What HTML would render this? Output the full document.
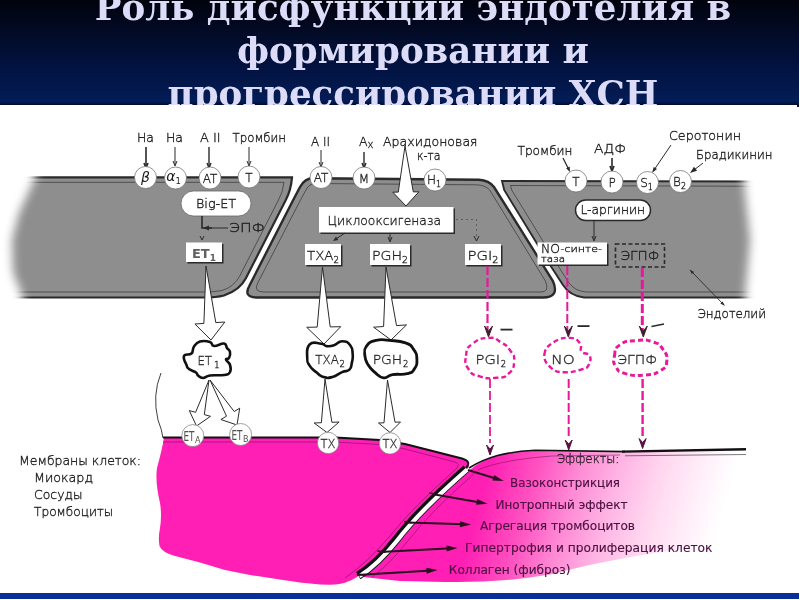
<!DOCTYPE html>
<html lang="ru">
<head>
<meta charset="utf-8">
<title>Роль дисфункции эндотелия в формировании и прогрессировании ХСН</title>
<style>
html,body{margin:0;padding:0;}
body{width:800px;height:600px;overflow:hidden;position:relative;background:#fff;}
#bg{position:absolute;left:0;top:0;width:799px;height:107px;background:linear-gradient(to bottom,#01030d 0px,#020a24 30px,#021240 65px,#03194f 92px,#041d58 101px,#01103a 104px,#000a2a 105px);}
#title{position:absolute;left:0;top:-14px;width:826px;margin:0;text-align:center;font-family:"DejaVu Serif","Liberation Serif",serif;font-weight:bold;font-size:35.6px;line-height:43px;color:#dcdcf8;letter-spacing:0;will-change:transform;}
#pic{position:absolute;left:0;top:105px;width:797px;height:495px;background:#fff;}
#bar{position:absolute;left:0;top:593px;width:799px;height:6px;background:#0a2f9a;}
#dia{position:absolute;left:0;top:0;width:800px;height:600px;will-change:transform;}
</style>
</head>
<body>
<div id="bg"></div>
<h1 id="title">Роль дисфункции эндотелия в<br>формировании и<br>прогрессировании ХСН</h1>
<div id="pic"></div>
<svg id="dia" width="800" height="600" viewBox="0 0 800 600">
<defs>
<filter id="bl" x="-50%" y="-50%" width="200%" height="200%"><feGaussianBlur stdDeviation="5"/></filter>
<linearGradient id="pk" gradientUnits="userSpaceOnUse" x1="497" y1="440" x2="725" y2="504">
<stop offset="0" stop-color="#ff1fb4"/><stop offset="0.19" stop-color="#ff50c0"/><stop offset="0.36" stop-color="#ff88d4"/><stop offset="0.53" stop-color="#ffb4e4"/><stop offset="0.71" stop-color="#ffd8f0"/><stop offset="0.88" stop-color="#fff0fa"/><stop offset="1" stop-color="#ffffff"/>
</linearGradient>
</defs>
<g font-family="DejaVu Sans, Liberation Sans, sans-serif" font-weight="200" stroke="#1c1c1c" stroke-width="0">
<style>text{stroke:#222;stroke-width:0.35px}</style>
<path d="M-5,177.3 L292,177.3 Q291,190 285.8,200 L246,278 Q240,290 224,295.5 Q216,297.5 205,297.5 L-5,297.5Z" fill="#8e8e8e" stroke="#2a2a2a" stroke-width="2.2" stroke-linejoin="miter"/>
<path d="M313,178.3 L479,179.8 Q489,180.5 494,187 L552.9,281 Q560,297.5 543,297.5 L256,297.5 Q243,297 249.5,285.5 L293.2,200 L300,187 Q305,178.3 313,178.3Z" fill="#8e8e8e" stroke="#2a2a2a" stroke-width="2.4" stroke-linejoin="miter"/>
<path d="M502,181 L770,181.5 L770,297.5 L584,297.5 Q570,296 563,285 L551,266.5 L504.2,190Z" fill="#8e8e8e" stroke="#2a2a2a" stroke-width="1.9" stroke-linejoin="miter"/>
<path d="M-5,182.3 L284,182.3 Q283,192 278.5,200 L240,275.5 Q234,287 222,290.5 Q214,292 205,292 L-5,292" fill="none" stroke="#2a2a2a" stroke-width="0.8" opacity="0.8"/>
<path d="M316,183.5 L476,184.8 Q485,185 489.7,190 L545.4,281 Q550,292 541,292 L264,292 Q253,292 257.7,283 L300.5,200 L306,190 Q309,183.5 316,183.5Z" fill="none" stroke="#2a2a2a" stroke-width="0.8" opacity="0.8"/>
<path d="M510.5,185.5 L770,186.3 M770,292 L586,292 Q575,291 569,283 L558.2,266 L511.7,190 L510.5,185.5" fill="none" stroke="#2a2a2a" stroke-width="0.8" opacity="0.8"/>
<path d="M-20,160 L40,160 L36,176 L19,213 L12,240 L13,272 L23,298 L25,312 L-20,312Z" fill="#fff" filter="url(#bl)"/>
<path d="M820,160 L742,160 L744,183 L750,240 L745,297 L744,312 L820,312Z" fill="#fff" filter="url(#bl)"/>
<text x="137" y="142" font-size="12.5" fill="#1c1c1c" font-weight="200" textLength="17" lengthAdjust="spacingAndGlyphs" >На</text>
<text x="166" y="142" font-size="12.5" fill="#1c1c1c" font-weight="200" textLength="17" lengthAdjust="spacingAndGlyphs" >На</text>
<text x="200" y="142" font-size="12.5" fill="#1c1c1c" font-weight="200" textLength="20.5" lengthAdjust="spacingAndGlyphs" >A II</text>
<text x="232.5" y="142" font-size="12.5" fill="#1c1c1c" font-weight="200" textLength="53.5" lengthAdjust="spacingAndGlyphs" >Тромбин</text>
<text x="311" y="145.5" font-size="12.5" fill="#1c1c1c" font-weight="200" textLength="19" lengthAdjust="spacingAndGlyphs" >A II</text>
<text x="359" y="145.5" font-size="12.5" fill="#1c1c1c">А<tspan font-size="10" dy="2.5">х</tspan></text>
<text x="383" y="145.5" font-size="12.5" fill="#1c1c1c" font-weight="200" textLength="94.5" lengthAdjust="spacingAndGlyphs" >Арахидоновая</text>
<text x="417" y="160" font-size="12.5" fill="#1c1c1c" font-weight="200" textLength="23.5" lengthAdjust="spacingAndGlyphs" >к-та</text>
<text x="517.5" y="154.5" font-size="12.5" fill="#1c1c1c" font-weight="200" textLength="55.0" lengthAdjust="spacingAndGlyphs" >Тромбин</text>
<text x="594" y="153" font-size="12.5" fill="#1c1c1c" font-weight="200" textLength="32" lengthAdjust="spacingAndGlyphs" >АДФ</text>
<text x="669" y="139.5" font-size="12.5" fill="#1c1c1c" font-weight="200" textLength="72" lengthAdjust="spacingAndGlyphs" >Серотонин</text>
<text x="696" y="159" font-size="12.5" fill="#1c1c1c" font-weight="200" textLength="76.5" lengthAdjust="spacingAndGlyphs" >Брадикинин</text>
<line x1="146" y1="147" x2="146" y2="166" stroke="#2a2a2a" stroke-width="1.6"/>
<path d="M144.0,163 L146,168 L148.0,163" fill="none" stroke="#2a2a2a" stroke-width="1.6"/>
<line x1="175" y1="147" x2="175" y2="164" stroke="#2a2a2a" stroke-width="1"/>
<path d="M173.0,161 L175,166 L177.0,161" fill="none" stroke="#2a2a2a" stroke-width="1"/>
<line x1="209" y1="147" x2="209" y2="166" stroke="#2a2a2a" stroke-width="1.4"/>
<path d="M207.0,163 L209,168 L211.0,163" fill="none" stroke="#2a2a2a" stroke-width="1.4"/>
<line x1="249" y1="147" x2="249" y2="164" stroke="#2a2a2a" stroke-width="1"/>
<path d="M247.0,161 L249,166 L251.0,161" fill="none" stroke="#2a2a2a" stroke-width="1"/>
<line x1="321" y1="150" x2="321" y2="165" stroke="#2a2a2a" stroke-width="1"/>
<path d="M319.0,162 L321,167 L323.0,162" fill="none" stroke="#2a2a2a" stroke-width="1"/>
<line x1="364" y1="152" x2="364" y2="166" stroke="#2a2a2a" stroke-width="1.4"/>
<path d="M362.0,163 L364,168 L366.0,163" fill="none" stroke="#2a2a2a" stroke-width="1.4"/>
<line x1="563" y1="158" x2="569" y2="170" stroke="#2a2a2a" stroke-width="1.2"/>
<path d="M570.0,172.0 L566.1,168.3 L569.7,166.6Z" fill="#2a2a2a"/>
<line x1="612" y1="158" x2="612" y2="169" stroke="#2a2a2a" stroke-width="1.6"/>
<path d="M610.0,166 L612,171 L614.0,166" fill="none" stroke="#2a2a2a" stroke-width="1.6"/>
<line x1="671" y1="145" x2="654" y2="170" stroke="#2a2a2a" stroke-width="1"/>
<path d="M652.0,173.0 L653.7,166.9 L657.0,169.1Z" fill="#2a2a2a"/>
<line x1="703" y1="163" x2="694" y2="170" stroke="#2a2a2a" stroke-width="1"/>
<path d="M690.0,173.0 L694.0,166.7 L697.1,170.7Z" fill="#2a2a2a"/>
<path d="M405.0,146.0 L398.3,192.1 L392.8,192.2 L406.0,206.0 L418.8,191.8 L413.3,191.9Z" fill="#fff" stroke="#2a2a2a" stroke-width="1" stroke-linejoin="miter"/>
<circle cx="145.5" cy="177.5" r="11" fill="#fff" stroke="#666" stroke-width="0.7"/>
<text x="145.5" y="181.5" font-size="14" fill="#1c1c1c" text-anchor="middle" font-style="italic" font-weight="400" style="stroke-width:0">β</text>
<circle cx="175.5" cy="178" r="11" fill="#fff" stroke="#666" stroke-width="0.7"/>
<text x="173.5" y="181" font-size="14" fill="#1c1c1c" text-anchor="middle" font-style="italic" font-weight="400" style="stroke-width:0">α<tspan font-size="8.5" dy="3" font-style="normal">1</tspan></text>
<circle cx="210" cy="178" r="11" fill="#fff" stroke="#666" stroke-width="0.7"/>
<text x="210" y="182.5" font-size="12" fill="#3c3c3c" text-anchor="middle">AT</text>
<circle cx="249" cy="177" r="11" fill="#fff" stroke="#666" stroke-width="0.7"/>
<text x="249" y="181.5" font-size="12" fill="#3c3c3c" text-anchor="middle">T</text>
<circle cx="321" cy="177.5" r="11" fill="#fff" stroke="#666" stroke-width="0.7"/>
<text x="321" y="182.0" font-size="12" fill="#3c3c3c" text-anchor="middle">AT</text>
<circle cx="364" cy="178" r="11" fill="#fff" stroke="#666" stroke-width="0.7"/>
<text x="364" y="182.5" font-size="12" fill="#3c3c3c" text-anchor="middle">M</text>
<circle cx="435" cy="180" r="11" fill="#fff" stroke="#666" stroke-width="0.7"/>
<text x="434" y="184" font-size="12" fill="#3c3c3c" text-anchor="middle">H<tspan font-size="8" dy="3">1</tspan></text>
<circle cx="576" cy="181" r="11" fill="#fff" stroke="#666" stroke-width="0.7"/>
<text x="576" y="185.5" font-size="12" fill="#3c3c3c" text-anchor="middle">T</text>
<circle cx="612" cy="182" r="11" fill="#fff" stroke="#666" stroke-width="0.7"/>
<text x="612" y="186.5" font-size="12" fill="#3c3c3c" text-anchor="middle">P</text>
<circle cx="647.5" cy="182.5" r="11" fill="#fff" stroke="#666" stroke-width="0.7"/>
<text x="646.5" y="186.5" font-size="12" fill="#3c3c3c" text-anchor="middle">S<tspan font-size="8" dy="3">1</tspan></text>
<circle cx="680.5" cy="181.5" r="11" fill="#fff" stroke="#666" stroke-width="0.7"/>
<text x="679.5" y="185.5" font-size="12" fill="#3c3c3c" text-anchor="middle">B<tspan font-size="8" dy="3">2</tspan></text>
<rect x="181" y="191" width="70" height="25" rx="12.5" fill="#fff" stroke="#666" stroke-width="0.8"/>
<text x="196" y="208" font-size="12.5" fill="#1c1c1c" font-weight="200" textLength="40" lengthAdjust="spacingAndGlyphs" >Big-ET</text>
<path d="M202,216 L202,228 L212,228" fill="none" stroke="#2a2a2a" stroke-width="1.6"/>
<line x1="206" y1="228" x2="228" y2="228" stroke="#2a2a2a" stroke-width="1"/>
<path d="M203.0,228.0 L209.0,225.5 L209.0,230.5Z" fill="#2a2a2a"/>
<text x="229" y="232" font-size="12.5" fill="#1c1c1c" font-weight="200" textLength="36" lengthAdjust="spacingAndGlyphs" >ЭПФ</text>
<path d="M200,236 L202,240 L204,236" fill="none" stroke="#2a2a2a" stroke-width="1"/>
<rect x="187.5" y="244.0" width="36" height="19.5" fill="#2a2a2a"/>
<rect x="186" y="242.5" width="36" height="19.5" fill="#fff"/>
<text x="204" y="258" font-size="13" fill="#606060" font-weight="bold" text-anchor="middle" style="stroke-width:0">ET<tspan font-size="9" dy="3">1</tspan></text>
<path d="M206.0,266.0 L203.9,323.4 L194.9,324.0 L211.0,340.0 L224.8,322.0 L215.8,322.6Z" fill="#fff" stroke="#2a2a2a" stroke-width="1" stroke-linejoin="miter"/>
<rect x="320.5" y="208.5" width="134.5" height="25.5" fill="#2a2a2a"/>
<rect x="319" y="207" width="134.5" height="25.5" fill="#fff"/>
<text x="327.5" y="225" font-size="13" fill="#333" font-weight="200" textLength="113.5" lengthAdjust="spacingAndGlyphs" >Циклооксигеназа</text>
<line x1="345" y1="233" x2="336" y2="239" stroke="#2a2a2a" stroke-width="1"/>
<path d="M333.0,241.0 L336.0,236.5 L338.3,239.9Z" fill="#2a2a2a"/>
<line x1="390" y1="233" x2="390" y2="240" stroke="#2a2a2a" stroke-width="1"/>
<path d="M388.0,237 L390,242 L392.0,237" fill="none" stroke="#2a2a2a" stroke-width="1"/>
<rect x="306.5" y="245.5" width="36" height="21" fill="#2a2a2a"/>
<rect x="305" y="244" width="36" height="21" fill="#fff"/>
<rect x="371.5" y="245.5" width="40" height="21" fill="#2a2a2a"/>
<rect x="370" y="244" width="40" height="21" fill="#fff"/>
<rect x="466.5" y="245.5" width="36" height="21" fill="#2a2a2a"/>
<rect x="465" y="244" width="36" height="21" fill="#fff"/>
<text x="323" y="260" font-size="13" fill="#3c3c3c" text-anchor="middle" textLength="32" lengthAdjust="spacingAndGlyphs">TXA<tspan font-size="8.5" dy="3">2</tspan></text>
<text x="390" y="260" font-size="13" fill="#3c3c3c" text-anchor="middle" textLength="36" lengthAdjust="spacingAndGlyphs">PGH<tspan font-size="8.5" dy="3">2</tspan></text>
<text x="483" y="260" font-size="13" fill="#3c3c3c" text-anchor="middle" textLength="31" lengthAdjust="spacingAndGlyphs">PGI<tspan font-size="8.5" dy="3">2</tspan></text>
<path d="M456,219.5 L476.5,219.5 L476.5,238" fill="none" stroke="#2a2a2a" stroke-width="0.8" stroke-dasharray="2,3" opacity="0.6"/>
<path d="M474,236 L476.5,241 L479,236" fill="none" stroke="#2a2a2a" stroke-width="1"/>
<path d="M322.5,267.0 L317.2,327.1 L306.7,327.3 L324.0,344.0 L340.7,326.7 L330.2,326.9Z" fill="#fff" stroke="#2a2a2a" stroke-width="1" stroke-linejoin="miter"/>
<path d="M386.0,267.0 L383.6,326.5 L373.6,327.2 L391.0,340.0 L406.5,324.9 L396.5,325.6Z" fill="#fff" stroke="#2a2a2a" stroke-width="1" stroke-linejoin="miter"/>
<rect x="575.5" y="200" width="75" height="20.5" rx="10.2" fill="#fff" stroke="#2a2a2a" stroke-width="1.5"/>
<text x="580.5" y="214" font-size="12.5" fill="#1c1c1c" font-weight="200" textLength="64.5" lengthAdjust="spacingAndGlyphs" >L-аргинин</text>
<line x1="594" y1="221" x2="594" y2="239" stroke="#2a2a2a" stroke-width="1"/>
<path d="M592.0,236 L594,241 L596.0,236" fill="none" stroke="#2a2a2a" stroke-width="1"/>
<rect x="539.0" y="244.0" width="69.5" height="22.0" fill="#2a2a2a"/>
<rect x="537.5" y="242.5" width="69.5" height="22.0" fill="#fff"/>
<text x="541" y="252.8" font-size="12.5" fill="#1c1c1c" font-weight="200" textLength="19" lengthAdjust="spacingAndGlyphs" >NO</text>
<text x="560.5" y="252.3" font-size="9.5" fill="#444" font-weight="200" textLength="41.5" lengthAdjust="spacingAndGlyphs" >-синте-</text>
<text x="541" y="261.5" font-size="9" fill="#444" font-weight="200" textLength="24" lengthAdjust="spacingAndGlyphs" >таза</text>
<rect x="615.5" y="244" width="49" height="23" fill="none" stroke="#2a2a2a" stroke-width="1.6" stroke-dasharray="4,2.5"/>
<text x="620.5" y="259.5" font-size="13" fill="#1c1c1c" font-weight="200" textLength="39.0" lengthAdjust="spacingAndGlyphs" >ЭГПФ</text>
<line x1="691" y1="271" x2="724" y2="305" stroke="#2a2a2a" stroke-width="0.9"/>
<path d="M689.5,269.5 L694.1,272.1 L691.9,274.1Z" fill="#2a2a2a"/>
<path d="M725.0,306.0 L720.4,303.4 L722.6,301.4Z" fill="#2a2a2a"/>
<text x="697.5" y="318" font-size="12.5" fill="#1c1c1c" font-weight="200" textLength="68.5" lengthAdjust="spacingAndGlyphs" >Эндотелий</text>
<line x1="487.5" y1="266" x2="487.5" y2="330" stroke="#e8189c" stroke-width="2.2" stroke-dasharray="9,3"/>
<path d="M484.5,326 L488.5,337 L492.5,326 L488.5,331Z" fill="#402030" stroke="#402030" stroke-width="1"/>
<line x1="567.3" y1="266" x2="567.3" y2="330" stroke="#e8189c" stroke-width="2" stroke-dasharray="9,3"/>
<path d="M564.3,326 L568.3,337 L572.3,326 L568.3,331Z" fill="#402030" stroke="#402030" stroke-width="1"/>
<line x1="642.3" y1="268" x2="642.3" y2="330" stroke="#e8189c" stroke-width="3" stroke-dasharray="9,3"/>
<path d="M639.3,326 L643.3,337 L647.3,326 L643.3,331Z" fill="#402030" stroke="#402030" stroke-width="1"/>
<rect x="500.5" y="328.7" width="12" height="1.8" fill="#2a2a2a"/>
<rect x="577.5" y="325.2" width="12" height="1.8" fill="#2a2a2a"/>
<path d="M651.5,326.5 L664,324" stroke="#2a2a2a" stroke-width="1.5"/>
<path d="M200.0,341.5 C203.7,340.4 206.7,340.9 210.0,342.0 C213.3,343.1 210.7,345.6 214.0,346.0 C217.3,346.4 221.0,343.0 224.0,343.5 C227.0,344.0 225.6,346.0 227.0,348.0 C228.4,350.0 229.5,349.7 230.0,352.0 C230.5,354.3 229.9,356.2 229.0,358.0 C228.1,359.8 225.8,357.9 226.0,359.5 C226.2,361.1 229.1,362.1 230.0,365.0 C230.9,367.9 231.4,369.7 230.0,372.0 C228.6,374.3 228.7,374.2 224.0,375.0 C219.3,375.8 214.9,374.8 210.0,375.5 C205.1,376.2 205.8,378.0 203.0,378.0 C200.2,378.0 199.6,376.8 198.0,375.5 C196.4,374.2 198.1,374.0 196.0,372.5 C193.9,371.0 191.2,370.8 189.0,369.0 C186.8,367.2 187.7,368.0 186.5,365.0 C185.3,362.0 182.8,358.7 184.0,356.0 C185.2,353.3 189.2,355.7 191.5,353.5 C193.8,351.3 192.0,349.3 194.0,346.5 C196.0,343.7 196.3,342.6 200.0,341.5Z" fill="#fff" stroke="#111" stroke-width="2.6" stroke-linejoin="round" stroke-linecap="butt"/>
<path d="M309.6,344.5 C313.3,340.8 316.4,343.3 321.0,343.7 C325.6,344.1 323.2,345.7 326.7,346.1 C330.2,346.5 329.9,346.6 334.0,345.3 C338.1,344.0 337.8,341.2 342.1,341.2 C346.4,341.2 347.4,341.8 350.2,345.3 C353.0,348.8 352.2,349.6 352.7,354.2 C353.2,358.8 352.8,358.3 351.9,362.4 C351.0,366.5 352.0,367.1 349.4,369.7 C346.8,372.3 346.6,370.2 342.1,372.1 C337.6,374.0 337.4,375.7 332.4,377.0 C327.4,378.3 327.7,378.3 323.4,377.0 C319.1,375.7 319.8,375.1 316.1,372.1 C312.4,369.1 312.0,369.5 309.6,365.6 C307.2,361.7 307.2,363.1 307.2,357.5 C307.2,351.9 305.9,348.2 309.6,344.5Z" fill="#fff" stroke="#111" stroke-width="2.6" stroke-linejoin="round" stroke-linecap="butt"/>
<path d="M366.5,346.1 C369.5,342.0 370.1,341.9 376.2,340.4 C382.3,338.9 381.4,339.7 389.2,340.4 C397.0,341.1 399.0,340.5 405.5,342.9 C412.0,345.3 410.6,345.1 413.6,349.4 C416.6,353.7 416.7,353.9 416.9,359.1 C417.1,364.3 417.0,365.0 414.4,368.9 C411.8,372.8 412.9,372.2 407.1,373.7 C401.3,375.2 398.8,373.5 392.5,374.6 C386.2,375.7 388.4,378.5 383.6,377.8 C378.8,377.1 378.7,375.6 374.6,372.1 C370.5,368.6 370.7,369.1 368.1,364.8 C365.5,360.5 365.3,360.9 364.9,355.9 C364.5,350.9 363.5,350.2 366.5,346.1Z" fill="#fff" stroke="#111" stroke-width="2.8" stroke-linejoin="round" stroke-linecap="butt"/>
<path d="M466.0,355.8 C467.2,348.0 465.9,348.8 472.9,343.4 C479.9,338.0 481.1,338.3 489.4,337.9 C497.6,337.5 494.2,338.3 500.4,342.0 C506.6,345.7 505.9,344.5 510.0,350.3 C514.1,356.1 514.5,354.3 514.1,361.3 C513.7,368.3 513.9,368.7 508.6,373.6 C503.3,378.6 504.9,377.0 496.3,377.8 C487.7,378.6 488.1,378.9 479.8,376.4 C471.6,373.9 472.9,375.7 468.8,369.5 C464.7,363.3 464.8,363.6 466.0,355.8Z" fill="#fff" stroke="#e8189c" stroke-width="2.4" stroke-linejoin="round" stroke-linecap="butt" stroke-dasharray="5,3"/>
<path d="M544.4,354.4 C545.0,348.3 547.9,345.9 554.0,342.0 C560.1,338.1 564.4,337.6 570.5,337.9 C576.6,338.2 577.5,340.2 580.1,343.4 C582.7,346.6 579.2,348.7 581.5,351.6 C583.8,354.5 588.2,352.6 589.8,355.8 C591.4,359.0 590.3,362.2 588.4,365.4 C586.5,368.6 587.0,367.9 581.5,369.5 C576.0,371.1 572.0,372.6 565.0,372.3 C558.0,372.0 556.1,372.3 551.3,368.1 C546.5,363.9 543.8,360.5 544.4,354.4Z" fill="#fff" stroke="#e8189c" stroke-width="2.4" stroke-linejoin="round" stroke-linecap="butt" stroke-dasharray="5,3"/>
<path d="M614.5,355.8 C615.7,349.2 613.4,349.4 620.0,344.8 C626.6,340.2 626.6,341.4 636.5,340.6 C646.4,339.8 645.2,339.5 653.0,342.0 C660.8,344.5 658.5,343.1 662.6,348.9 C666.7,354.7 667.6,354.7 666.8,361.3 C666.0,367.9 666.5,366.8 659.9,370.9 C653.3,375.0 655.1,374.2 644.8,375.0 C634.5,375.8 634.2,376.1 625.5,373.6 C616.8,371.1 619.2,372.1 615.9,366.8 C612.6,361.5 613.3,362.4 614.5,355.8Z" fill="#fff" stroke="#e8189c" stroke-width="3" stroke-linejoin="round" stroke-linecap="butt" stroke-dasharray="5,3"/>
<text x="197.5" y="364.5" font-size="13" fill="#4a4a4a" textLength="14.5" lengthAdjust="spacingAndGlyphs">ET</text><text x="214" y="367.5" font-size="9" fill="#4a4a4a">1</text>
<text x="315.3" y="364" font-size="13" fill="#4a4a4a" textLength="23.5" lengthAdjust="spacingAndGlyphs">TXA</text><text x="339.5" y="367" font-size="8.5" fill="#4a4a4a">2</text>
<text x="372.7" y="364" font-size="13" fill="#4a4a4a" textLength="29.5" lengthAdjust="spacingAndGlyphs">PGH</text><text x="403" y="367" font-size="8.5" fill="#4a4a4a">2</text>
<text x="475.6" y="364" font-size="13" fill="#4a4a4a" textLength="24.5" lengthAdjust="spacingAndGlyphs">PGI</text><text x="500.8" y="367" font-size="8.5" fill="#4a4a4a">2</text>
<text x="551.3" y="363.5" font-size="13" fill="#4a4a4a" font-weight="200" textLength="23.3" lengthAdjust="spacingAndGlyphs" >NO</text>
<text x="617.3" y="363.5" font-size="13" fill="#4a4a4a" font-weight="200" textLength="39.8" lengthAdjust="spacingAndGlyphs" >ЭГПФ</text>
<line x1="490" y1="379" x2="490" y2="443" stroke="#e8189c" stroke-width="1.8" stroke-dasharray="9,3"/>
<line x1="568.7" y1="379" x2="568.7" y2="438" stroke="#e8189c" stroke-width="2" stroke-dasharray="9,3"/>
<line x1="642.6" y1="379" x2="642.6" y2="437" stroke="#e8189c" stroke-width="2.4" stroke-dasharray="9,3"/>
<path d="M164,437.5 L335,437.5 L380,440 L405,444 L462,458.5 Q472,461.5 468,468 Q420,510 396,540 Q375,565 357,577 Q345,585 330,584.8 L320,584.5 L300,582.5 L275,578.8 L250,575 L225,570 L200,562.5 L175,556 Q162,552.5 159.5,546 Q158,538 160,528 Q162,515 160,503 Q155,482 157,468 Q162,450 164,437.5Z" fill="#ff1fb4"/>
<path d="M471,469 Q482,460 497.5,455.6 Q515,451 535,450.3 L625,451.6 L745,449.5 L745,538 Q700,546 630,557 Q590,564 550,574.5 Q500,583 445,582 L400,581 L363,577 Q380,565 400,541 Q425,508 471,469Z" fill="url(#pk)"/>
<path d="M466.3,468.6 Q419.3,509.6 396.3,539.6 Q376.3,564.6 358.3,575.6" fill="none" stroke="#111" stroke-width="8.4"/>
<path d="M467.4,469.3 Q420.4,510.3 397.4,540.3 Q377.4,565.3 359.4,576.3" fill="none" stroke="#fff" stroke-width="4.2"/>
<line x1="429" y1="493.0" x2="437" y2="494.3" stroke="#111" stroke-width="1.6"/>
<line x1="404" y1="521.5" x2="412" y2="522.8" stroke="#111" stroke-width="1.6"/>
<line x1="377.5" y1="551.0" x2="385.5" y2="552.3" stroke="#111" stroke-width="1.6"/>
<line x1="357" y1="574.0" x2="365" y2="575.3" stroke="#111" stroke-width="1.6"/>
<path d="M476,472 Q430,512 407,542 Q388,566 372,577" fill="none" stroke="#7a1060" stroke-width="0.8" opacity="0.7"/>
<path d="M163,437.5 L335,437.5 L380,440 L405,444 L462,458.5 Q472,461.5 466,468" fill="none" stroke="#111" stroke-width="2"/>
<path d="M163,442 L335,442 L380,444.5 L403,448.5 L455,462 Q461,464 456,469 Q412,508 389,537 Q368,562 345,578" fill="none" stroke="#7a1060" stroke-width="0.8" opacity="0.8"/>
<path d="M469,468 Q482,460 497.5,455.6 Q515,451 535,450.3 L625,451.6" fill="none" stroke="#111" stroke-width="1.6"/>
<path d="M622,451.6 L746,449.3" fill="none" stroke="#111" stroke-width="2.4"/>
<path d="M625,455.8 L746,454.5" fill="none" stroke="#444" stroke-width="0.7"/>
<path d="M478,470 Q500,460 552,456 L620,455" fill="none" stroke="#7a1060" stroke-width="0.8" opacity="0.7"/>
<path d="M486.5,445 L490,455 L493.5,445 L490,449Z" fill="#5a1040" stroke="#5a1040" stroke-width="1"/>
<path d="M565.2,440 L568.7,450 L572.2,440 L568.7,444Z" fill="#5a1040" stroke="#5a1040" stroke-width="1"/>
<path d="M639.1,438.5 L642.6,448.5 L646.1,438.5 L642.6,442.5Z" fill="#5a1040" stroke="#5a1040" stroke-width="1"/>
<path d="M161,373 Q152,395 158,420 Q162,430 163,438" fill="none" stroke="#2a2a2a" stroke-width="0.9"/>
<path d="M209.0,380.0 L195.6,412.3 L189.3,410.6 L196.5,426.0 L210.5,416.3 L204.3,414.6Z" fill="#fff" stroke="#2a2a2a" stroke-width="1" stroke-linejoin="miter"/>
<path d="M210.0,380.0 L226.5,416.2 L220.9,419.5 L237.0,425.0 L239.7,408.2 L234.2,411.5Z" fill="#fff" stroke="#2a2a2a" stroke-width="1" stroke-linejoin="miter"/>
<path d="M325.0,379.0 L321.4,422.7 L314.1,423.0 L327.0,432.5 L339.1,422.0 L331.9,422.3Z" fill="#fff" stroke="#2a2a2a" stroke-width="1" stroke-linejoin="miter"/>
<path d="M387.5,380.0 L384.0,422.8 L378.5,423.0 L390.0,432.5 L400.5,422.0 L395.0,422.2Z" fill="#fff" stroke="#2a2a2a" stroke-width="1" stroke-linejoin="miter"/>
<circle cx="192.8" cy="435.6" r="11" fill="#fff" stroke="#777" stroke-width="0.7"/>
<circle cx="240.6" cy="434.5" r="11" fill="#fff" stroke="#777" stroke-width="0.7"/>
<circle cx="328.1" cy="443" r="10.7" fill="#fff" stroke="#777" stroke-width="0.7"/>
<circle cx="390" cy="443.4" r="10.7" fill="#fff" stroke="#777" stroke-width="0.7"/>
<text x="183.5" y="441.3" font-size="14" fill="#505050" font-weight="400" textLength="11" lengthAdjust="spacingAndGlyphs" style="stroke-width:0">ET</text><text x="195" y="442.5" font-size="8" fill="#505050" font-weight="400" style="stroke-width:0">A</text>
<text x="231.5" y="440.3" font-size="14" fill="#505050" font-weight="400" textLength="11" lengthAdjust="spacingAndGlyphs" style="stroke-width:0">ET</text><text x="243" y="442" font-size="8" fill="#505050" font-weight="400" style="stroke-width:0">B</text>
<text x="320.5" y="447.5" font-size="13" fill="#505050" textLength="15" lengthAdjust="spacingAndGlyphs">TX</text>
<text x="382.5" y="447.8" font-size="13" fill="#505050" textLength="15" lengthAdjust="spacingAndGlyphs">TX</text>
<line x1="468" y1="470" x2="498.1" y2="479.2" stroke="#2a1020" stroke-width="2"/>
<path d="M503.8,481.0 L492.4,480.6 L494.2,474.9Z" fill="#2a1020"/>
<line x1="432" y1="494" x2="481.6" y2="502.8" stroke="#2a1020" stroke-width="2"/>
<path d="M487.5,503.8 L476.1,504.8 L477.2,498.9Z" fill="#2a1020"/>
<line x1="407" y1="522.5" x2="465.0" y2="524.3" stroke="#2a1020" stroke-width="2"/>
<path d="M471.0,524.5 L459.9,527.2 L460.1,521.2Z" fill="#2a1020"/>
<line x1="380" y1="552" x2="451.5" y2="548.3" stroke="#2a1020" stroke-width="2"/>
<path d="M457.5,548.0 L446.7,551.6 L446.4,545.6Z" fill="#2a1020"/>
<line x1="357" y1="575" x2="431.5" y2="570.4" stroke="#2a1020" stroke-width="2"/>
<path d="M437.5,570.0 L426.7,573.7 L426.3,567.7Z" fill="#2a1020"/>
<text x="556.7" y="462.5" font-size="12.5" fill="#5a2050" font-weight="200" textLength="62.7" lengthAdjust="spacingAndGlyphs" >Эффекты:</text>
<text x="510" y="487" font-size="13" fill="#4a1040" font-weight="400" textLength="110" lengthAdjust="spacingAndGlyphs" style="stroke-width:0.15px;stroke:#4a1040">Вазоконстрикция</text>
<text x="495.5" y="508.8" font-size="13" fill="#4a1040" font-weight="400" textLength="132.0" lengthAdjust="spacingAndGlyphs" style="stroke-width:0.15px;stroke:#4a1040">Инотропный эффект</text>
<text x="480" y="530" font-size="13" fill="#4a1040" font-weight="400" textLength="155" lengthAdjust="spacingAndGlyphs" style="stroke-width:0.15px;stroke:#4a1040">Агрегация тромбоцитов</text>
<text x="465" y="552" font-size="13" fill="#4a1040" font-weight="400" textLength="247.5" lengthAdjust="spacingAndGlyphs" style="stroke-width:0.15px;stroke:#4a1040">Гипертрофия и пролиферация клеток</text>
<text x="448.8" y="573.8" font-size="13" fill="#4a1040" font-weight="400" textLength="121.7" lengthAdjust="spacingAndGlyphs" style="stroke-width:0.15px;stroke:#4a1040">Коллаген (фиброз)</text>
<text x="19" y="465" font-size="12.5" fill="#1c1c1c" font-weight="200" textLength="122" lengthAdjust="spacingAndGlyphs" >Мембраны клеток:</text>
<text x="34" y="481.6" font-size="12.5" fill="#1c1c1c" font-weight="200" textLength="59" lengthAdjust="spacingAndGlyphs" >Миокард</text>
<text x="34" y="498.5" font-size="12.5" fill="#1c1c1c" font-weight="200" textLength="48.5" lengthAdjust="spacingAndGlyphs" >Сосуды</text>
<text x="34" y="515.7" font-size="12.5" fill="#1c1c1c" font-weight="200" textLength="79" lengthAdjust="spacingAndGlyphs" >Тромбоциты</text>
</g>
</svg>
<div id="bar"></div>
</body>
</html>
